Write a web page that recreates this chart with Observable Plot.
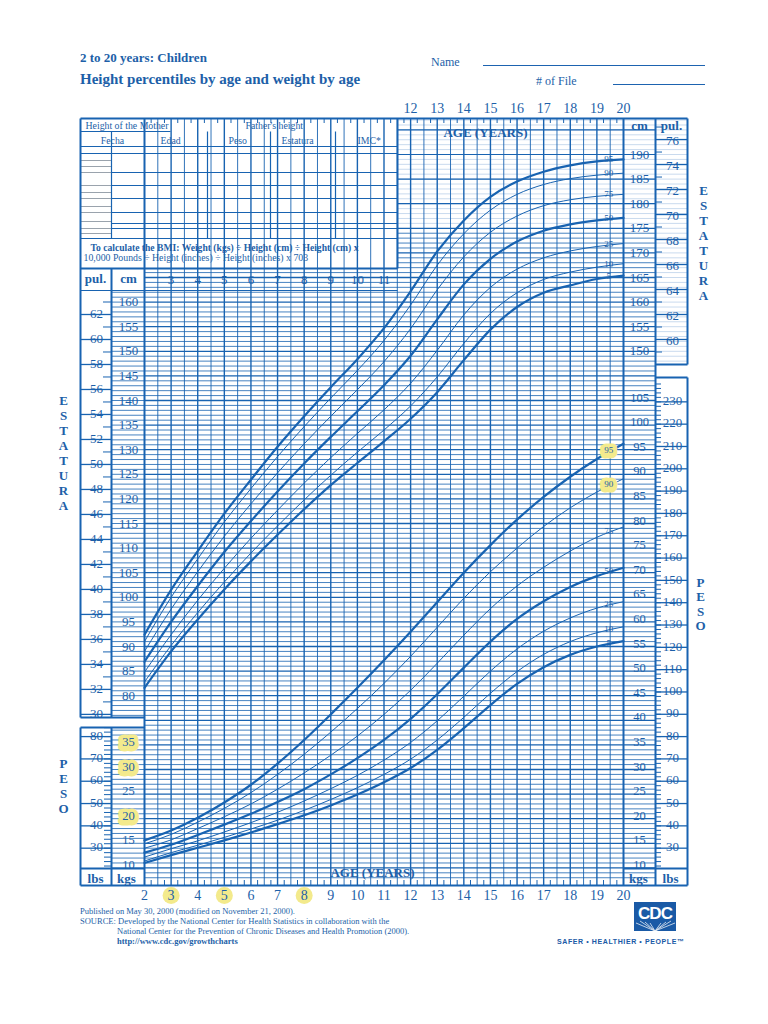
<!DOCTYPE html>
<html><head><meta charset="utf-8">
<script src="https://cdn.jsdelivr.net/npm/d3@7"></script>
<script src="https://cdn.jsdelivr.net/npm/@observablehq/plot@0.6"></script>
<style>
html,body{margin:0;padding:0;background:#fff;}
#page{position:relative;width:768px;height:1024px;font-family:"Liberation Serif","Times New Roman",serif;color:#1d5fa8;overflow:hidden;}
.abs{position:absolute;white-space:nowrap;line-height:1;}
#chart{position:absolute;left:0;top:95px;}
.rule{position:absolute;border-top:1.3px solid #1d63b0;height:0;}
</style></head><body><div id="page">
<div class="abs" style="left:80px;top:51px;font-size:13px;font-weight:bold">2 to 20 years: Children</div>
<div class="abs" style="left:80px;top:72px;font-size:15px;font-weight:bold">Height percentiles by age and weight by age</div>
<div class="abs" style="left:431px;top:56px;font-size:12px">Name</div>
<div class="rule" style="left:483px;top:65px;width:222px"></div>
<div class="abs" style="left:536px;top:75px;font-size:12px"># of File</div>
<div class="rule" style="left:613px;top:84px;width:92px"></div>
<div id="chart"></div>
<div class="abs" style="left:80px;top:907px;font-size:8.5px">Published on May 30, 2000 (modified on November 21, 2000).</div>
<div class="abs" style="left:80px;top:917px;font-size:8.5px">SOURCE: Developed by the National Center for Health Statistics in collaboration with the</div>
<div class="abs" style="left:117px;top:927px;font-size:8.5px">National Center for the Prevention of Chronic Diseases and Health Promotion (2000).</div>
<div class="abs" style="left:117px;top:937px;font-size:8.5px;font-weight:bold">http://www.cdc.gov/growthcharts</div>
<svg class="abs" style="left:634px;top:902px" width="42" height="29" viewBox="0 0 42 29">
  <rect x="0" y="0" width="42" height="29" fill="#1a5aa6"/>
  <g stroke="#fff" stroke-width="0.8" opacity="0.9">
    <line x1="21" y1="29" x2="2" y2="21"/><line x1="21" y1="29" x2="6" y2="19"/><line x1="21" y1="29" x2="11" y2="20"/>
    <line x1="21" y1="29" x2="16" y2="21"/><line x1="21" y1="29" x2="27" y2="21"/><line x1="21" y1="29" x2="32" y2="20"/>
    <line x1="21" y1="29" x2="37" y2="19"/><line x1="21" y1="29" x2="41" y2="21"/>
  </g>
  <text x="21" y="17" text-anchor="middle" font-family="Liberation Sans, Arial, sans-serif" font-weight="bold" font-size="17" fill="#fff" letter-spacing="-1">CDC</text>
</svg>
<div class="abs" style="left:557px;top:938px;font-size:7px;font-weight:bold;font-family:'Liberation Sans',Arial,sans-serif;letter-spacing:0.6px;color:#1a5aa6">SAFER • HEALTHIER • PEOPLE™</div>
</div>
<script>
// ---------------- data ----------------
const ages = [2,3,4,5,6,7,8,9,10,11,12,13,14,15,16,17,18,19,20];
const percentiles = ["5","10","25","50","75","90","95"];
// stature-for-age (cm)
const statureP5  = [81.6, 89.0, 95.5,101.6,107.3,112.7,117.9,122.8,127.3,131.7,136.3,141.7,148.2,154.4,159.0,161.9,163.4,164.7,165.4];
const statureP10 = [82.8, 90.2, 96.9,103.1,109.0,114.5,119.8,124.8,129.5,134.0,138.9,144.8,151.6,157.7,161.9,164.6,166.1,167.1,167.8];
const statureP25 = [84.8, 92.4, 99.4,105.9,112.0,117.7,123.2,128.4,133.3,138.1,143.5,150.2,157.4,163.0,166.7,169.0,170.4,171.3,171.9];
const statureP50 = [86.9, 95.0,102.3,109.2,115.5,121.5,127.2,132.6,137.8,143.1,149.1,156.5,163.6,168.8,172.3,174.5,175.8,176.6,177.1];
const statureP75 = [89.0, 97.6,105.2,112.4,119.0,125.3,131.2,136.8,142.2,147.9,154.6,162.5,169.2,174.2,177.5,179.6,180.8,181.5,181.9];
const statureP90 = [91.0,100.0,107.8,115.3,122.1,128.6,134.7,140.5,146.1,152.2,159.4,167.5,173.9,178.7,181.9,183.9,185.1,185.8,186.2];
const statureP95 = [92.4,101.5,109.4,117.0,123.9,130.6,136.8,142.7,148.4,154.7,162.2,170.3,176.6,181.4,184.5,186.5,187.8,188.6,189.0];
// weight-for-age (kg)
const weightP5  = [10.6,12.2,13.7,15.2,16.8,18.5,20.3,22.3,24.5,27.0,29.9,33.6,38.0,42.7,47.0,50.4,52.9,54.6,55.7];
const weightP10 = [11.0,12.7,14.2,15.8,17.5,19.3,21.3,23.5,25.9,28.6,31.7,35.6,40.2,45.1,49.5,53.0,55.6,57.4,58.6];
const weightP25 = [11.8,13.5,15.1,16.9,18.8,20.9,23.2,25.7,28.4,31.5,35.1,39.5,44.5,49.6,54.1,57.7,60.4,62.4,63.7];
const weightP50 = [12.7,14.3,16.3,18.4,20.6,23.0,25.6,28.6,31.9,35.6,39.9,44.9,50.3,55.6,60.2,63.8,66.7,68.9,70.6];
const weightP75 = [13.6,15.3,17.6,20.0,22.6,25.6,28.9,32.5,36.4,40.8,45.7,51.2,56.9,62.3,66.9,70.7,74.0,76.8,78.9];
const weightP90 = [14.5,16.4,18.9,21.7,24.9,28.6,32.7,37.2,42.0,47.1,52.6,58.5,64.4,69.8,74.6,79.0,82.8,86.0,88.7];
const weightP95 = [15.2,17.2,19.8,22.9,26.5,30.8,35.6,40.8,46.2,51.8,57.6,63.6,69.6,75.2,80.4,85.0,89.1,92.7,95.8];
// tick labels
const bottomAgeTicks = [2,3,4,5,6,7,8,9,10,11,12,13,14,15,16,17,18,19,20];
const topAgeTicks = [12,13,14,15,16,17,18,19,20];
const tableAgeTicks = [3,4,5,6,7,8,9,10,11];
const highlightedAges = [3,5,8];
const leftCmTicks = [80,85,90,95,100,105,110,115,120,125,130,135,140,145,150,155,160];
const rightCmTicks = [150,155,160,165,170,175,180,185,190];
const leftPulTicks = [30,32,34,36,38,40,42,44,46,48,50,52,54,56,58,60,62];
const rightPulTicks = [60,62,64,66,68,70,72,74,76];
const leftKgTicks = [10,15,20,25,30,35];
const highlightedKgs = [20,30,35];
const rightKgTicks = [10,15,20,25,30,35,40,45,50,55,60,65,70,75,80,85,90,95,100,105];
const leftLbTicks = [30,40,50,60,70,80];
const rightLbTicks = [30,40,50,60,70,80,90,100,110,120,130,140,150,160,170,180,190,200,210,220,230];
const highlightedWeightPct = ["90","95"];

// ---------------- layout helpers ----------------
const BLUE = "#1863b1", TXT = "#1d5fa8", FAINT = "#c3d6ec", HIL = "#f3ea8c";
const KG = 35.4, LB = 0.45359237, IN = 2.54;   // weight kg -> chart cm offset, unit conversions
const X = px => 2 + (px - 144) * 18 / 479;      // page px -> age
const Y = py => 190 - (py - 154) / 4.92;        // page px -> cm
const seg = (list, o) => Plot.link(list, {x1: d => X(d[0]), y1: d => Y(d[1]), x2: d => X(d[2]), y2: d => Y(d[3]), ...o});

const statureSeries = [statureP5, statureP10, statureP25, statureP50, statureP75, statureP90, statureP95];
const weightSeries = [weightP5, weightP10, weightP25, weightP50, weightP75, weightP90, weightP95];
const hRows = [], wRows = [];
percentiles.forEach((p, i) => ages.forEach((a, j) => {
  hRows.push({age: a, v: statureSeries[i][j], p});
  wRows.push({age: a, v: weightSeries[i][j] + KG, kg: weightSeries[i][j], p});
}));
const thick = new Set(["5", "50", "95"]);
const hLabels = percentiles.map((p, i) => ({p, v: (statureSeries[i][17] + statureSeries[i][18]) / 2}));
const wLabels = percentiles.map((p, i) => ({p, v: (weightSeries[i][17] + weightSeries[i][18]) / 2 + KG}));

// grid helpers
const range = (a, b, s = 1) => d3.range(a, b + 1e-9, s);
const denseCm = range(43, 175);
const faintCm = range(176, 197);
const halfYears = range(2.5, 19.5, 0.5);
const quarters = range(2.25, 19.75, 0.5);

const borders = [
  [80,118,687,118],[80,885,687,885],[80,118,80,717],[80,727,80,885],
  [687,118,687,364],[687,377,687,885],[144,118,144,885],[623,118,623,885],[655,118,655,885],
  [111,268,111,717],[111,727,111,885],[80,717,144,717],[80,727,144,727],
  [655,364,687,364],[655,377,687,377],[80,268,397,268],[397,118,397,268],
  [80,868,144,868],[623,868,687,868]
];
const tableLines = [
  [80,146,397,146],[80,153,397,153],[111,172,397,172],[111,185,397,185],[111,198,397,198],
  [111,212,397,212],[111,223,397,223],[111,228,397,228],[80,238,397,238],[80,290,397,290],
  [111,131,111,238],[207,131,207,238],[270,131,270,238],[335,131,335,238],[80,131,170,131]
];
const grayLines = [[80,160,111,160],[80,166,111,166],[80,172,111,172],[80,185,111,185],[80,192,111,192],[80,198,111,198],[80,206,111,206],[80,212,111,212],[80,221,111,221],[80,228,111,228],[80,233,111,233]];

const tableTextStart = [
  {t: "Height of the Mother", x: 85, y: 125},
  {t: "Father's height", x: 245, y: 125},
  {t: "Edad", x: 160, y: 140},
  {t: "Peso", x: 228, y: 140},
  {t: "Estatura", x: 281, y: 140},
  {t: "IMC*", x: 357, y: 140},
  {t: "10,000 Pounds ÷ Height (inches) ÷ Height (inches) x 703", x: 83, y: 257}
];
const tableTextBold = [{t: "To calculate the BMI: Weight (kgs) ÷ Height (cm) ÷ Height (cm) x", x: 90, y: 247}];
const tableTextMid = [{t: "Fecha", x: 112, y: 140}];
const headText = [
  {t: "pul.", x: 95, y: 278}, {t: "cm", x: 128, y: 278}, {t: "cm", x: 639, y: 125}, {t: "pul.", x: 671, y: 125},
  {t: "lbs", x: 95, y: 878}, {t: "kgs", x: 126, y: 878}, {t: "kgs", x: 638, y: 878}, {t: "lbs", x: 670, y: 878},
  {t: "AGE (YEARS)", x: 485, y: 132}, {t: "AGE (YEARS)", x: 372, y: 872}
];
const sideLetters = [];
"ESTATURA".split("").forEach((c, i) => { sideLetters.push({t: c, x: 63, y: 400 + i * 15}); sideLetters.push({t: c, x: 703, y: 190 + i * 15}); });
"PESO".split("").forEach((c, i) => { sideLetters.push({t: c, x: 63, y: 763 + i * 15}); sideLetters.push({t: c, x: 700, y: 582 + i * 14.5}); });

const T = (data, o) => Plot.text(data, {fill: TXT, fontFamily: "Liberation Serif, serif", ...o});

const chart = Plot.plot({
  width: 768, height: 810, margin: 0,
  x: {domain: [2, 20], range: [144, 623], axis: null},
  y: {domain: [200, 40], range: [9.8, 797], axis: null},
  style: {fontFamily: "Liberation Serif, serif", background: "white", overflow: "visible"},
  marks: [
    // faint grid in upper region
    Plot.ruleY(faintCm, {y: d => d, x1: () => X(397), x2: () => X(687), stroke: FAINT, strokeWidth: 0.9}),
    Plot.ruleY(range(148, 175), {y: d => d, x1: () => X(655), x2: () => X(687), stroke: FAINT, strokeWidth: 0.9}),
    Plot.ruleY([180, 185, 190, 195], {y: d => d, x1: () => X(397), x2: () => X(655), stroke: BLUE, strokeWidth: 1.2}),
    // dense grid
    Plot.ruleY(denseCm, {y: d => d, x1: d => X(d >= 167 ? 397 : 144), x2: () => X(655), stroke: BLUE, strokeWidth: d => d % 5 === 0 ? 1.3 : 0.8}),
    Plot.ruleY(denseCm.filter(d => (d >= 76 && d <= 162) || (d >= 45 && d <= 73)), {y: d => d, x1: () => X(111), x2: () => X(144), stroke: BLUE, strokeWidth: 0.8}),
    // vertical grid
    Plot.ruleX(halfYears, {x: d => d, y1: () => Y(118), y2: () => Y(885), stroke: BLUE, strokeWidth: d => d % 1 === 0 ? 1.4 : 0.9}),
    Plot.ruleX(quarters, {x: d => d, y1: () => Y(118), y2: () => Y(123), stroke: BLUE, strokeWidth: 1}),
    Plot.ruleX(quarters, {x: d => d, y1: () => Y(880), y2: () => Y(885), stroke: BLUE, strokeWidth: 1}),
    // table
    Plot.rect([0], {x1: () => X(80), x2: () => X(144), y1: () => Y(118), y2: () => Y(268), fill: "white"}),
    seg(grayLines, {stroke: "#9aa3ad", strokeWidth: 1}),
    seg(tableLines, {stroke: BLUE, strokeWidth: 1.2}),
    // inch / pound side ticks
    Plot.ruleY(leftPulTicks, {y: d => d * IN, x1: () => X(80), x2: () => X(111), stroke: BLUE, strokeWidth: 1.3}),
    Plot.ruleY(range(31, 63, 2), {y: d => d * IN, x1: () => X(103), x2: () => X(111), stroke: BLUE, strokeWidth: 1}),
    Plot.ruleY(rightPulTicks, {y: d => d * IN, x1: () => X(655), x2: () => X(687), stroke: BLUE, strokeWidth: 1.3}),
    Plot.ruleY(range(59, 77, 2), {y: d => d * IN, x1: () => X(655), x2: () => X(662), stroke: BLUE, strokeWidth: 1}),
    Plot.ruleY(leftLbTicks, {y: d => d * LB + KG, x1: () => X(80), x2: () => X(111), stroke: BLUE, strokeWidth: 1.3}),
    Plot.ruleY(range(22, 84, 2), {y: d => d * LB + KG, x1: () => X(104), x2: () => X(111), stroke: BLUE, strokeWidth: 1}),
    Plot.ruleY(rightLbTicks, {y: d => d * LB + KG, x1: () => X(655), x2: () => X(687), stroke: BLUE, strokeWidth: 1.3}),
    Plot.ruleY(range(22, 238, 2), {y: d => d * LB + KG, x1: () => X(655), x2: () => X(661), stroke: BLUE, strokeWidth: 1}),
    // borders
    seg(borders, {stroke: BLUE, strokeWidth: 2}),
    // percentile curves
    Plot.line(hRows.filter(d => !thick.has(d.p)), {x: "age", y: "v", z: "p", stroke: BLUE, strokeWidth: 1, curve: "monotone-x"}),
    Plot.line(hRows.filter(d => thick.has(d.p)), {x: "age", y: "v", z: "p", stroke: BLUE, strokeWidth: 2.2, curve: "monotone-x"}),
    Plot.line(wRows.filter(d => !thick.has(d.p)), {x: "age", y: "v", z: "p", stroke: BLUE, strokeWidth: 1, curve: "monotone-x"}),
    Plot.line(wRows.filter(d => thick.has(d.p)), {x: "age", y: "v", z: "p", stroke: BLUE, strokeWidth: 2.2, curve: "monotone-x"}),
    // highlights
    Plot.dot(highlightedAges, {x: d => d, y: () => Y(895), r: 8.5, fill: HIL}),
    T(wLabels.filter(d => highlightedWeightPct.includes(d.p)), {x: () => 19.45, y: "v", text: "p", fill: HIL, stroke: HIL, strokeWidth: 9, fontSize: 9}),
    T(highlightedKgs, {x: () => X(128), y: d => d + KG, text: d => String(d), fill: HIL, stroke: HIL, strokeWidth: 9, fontSize: 13}),
    // curve labels
    T(hLabels, {x: () => 19.45, y: "v", text: "p", fontSize: 9, dy: -1}),
    T(wLabels, {x: () => 19.45, y: "v", text: "p", fontSize: 9, dy: -1}),
    // axis labels
    T(bottomAgeTicks, {x: d => d, y: () => Y(895), text: d => String(d), fontSize: 14}),
    T(topAgeTicks, {x: d => d, y: () => Y(108), text: d => String(d), fontSize: 14}),
    T(tableAgeTicks, {x: d => d, y: () => Y(279), text: d => String(d), fontSize: 13}),
    T(leftCmTicks, {x: () => X(128), y: d => d, text: d => String(d), fontSize: 13}),
    T(rightCmTicks, {x: () => X(639), y: d => d, text: d => String(d), fontSize: 13}),
    T(leftPulTicks, {x: () => X(96), y: d => d * IN, text: d => String(d), fontSize: 13, dy: -1}),
    T(rightPulTicks, {x: () => X(672), y: d => d * IN, text: d => String(d), fontSize: 13, dy: 1}),
    T(leftKgTicks, {x: () => X(128), y: d => d + KG, text: d => String(d), fontSize: 12.5, dy: -1}),
    T(rightKgTicks, {x: () => X(639), y: d => d + KG, text: d => String(d), fontSize: 12.5, dy: -1}),
    T(leftLbTicks, {x: () => X(96), y: d => d * LB + KG, text: d => String(d), fontSize: 13, dy: -1}),
    T(rightLbTicks, {x: () => X(672), y: d => d * LB + KG, text: d => String(d), fontSize: 13, dy: -1}),
    // headers and side titles
    T(headText, {x: d => X(d.x), y: d => Y(d.y), text: "t", fontSize: 13, fontWeight: "bold"}),
    T(sideLetters, {x: d => X(d.x), y: d => Y(d.y), text: "t", fontSize: 13, fontWeight: "bold"}),
    T(tableTextStart, {x: d => X(d.x), y: d => Y(d.y), text: "t", textAnchor: "start", fontSize: 9.8}),
    T(tableTextBold, {x: d => X(d.x), y: d => Y(d.y), text: "t", textAnchor: "start", fontWeight: "bold", fontSize: 9.6}),
    T(tableTextMid, {x: d => X(d.x), y: d => Y(d.y), text: "t", fontSize: 9.8})
  ]
});
document.getElementById("chart").appendChild(chart);
</script>
</body></html>
